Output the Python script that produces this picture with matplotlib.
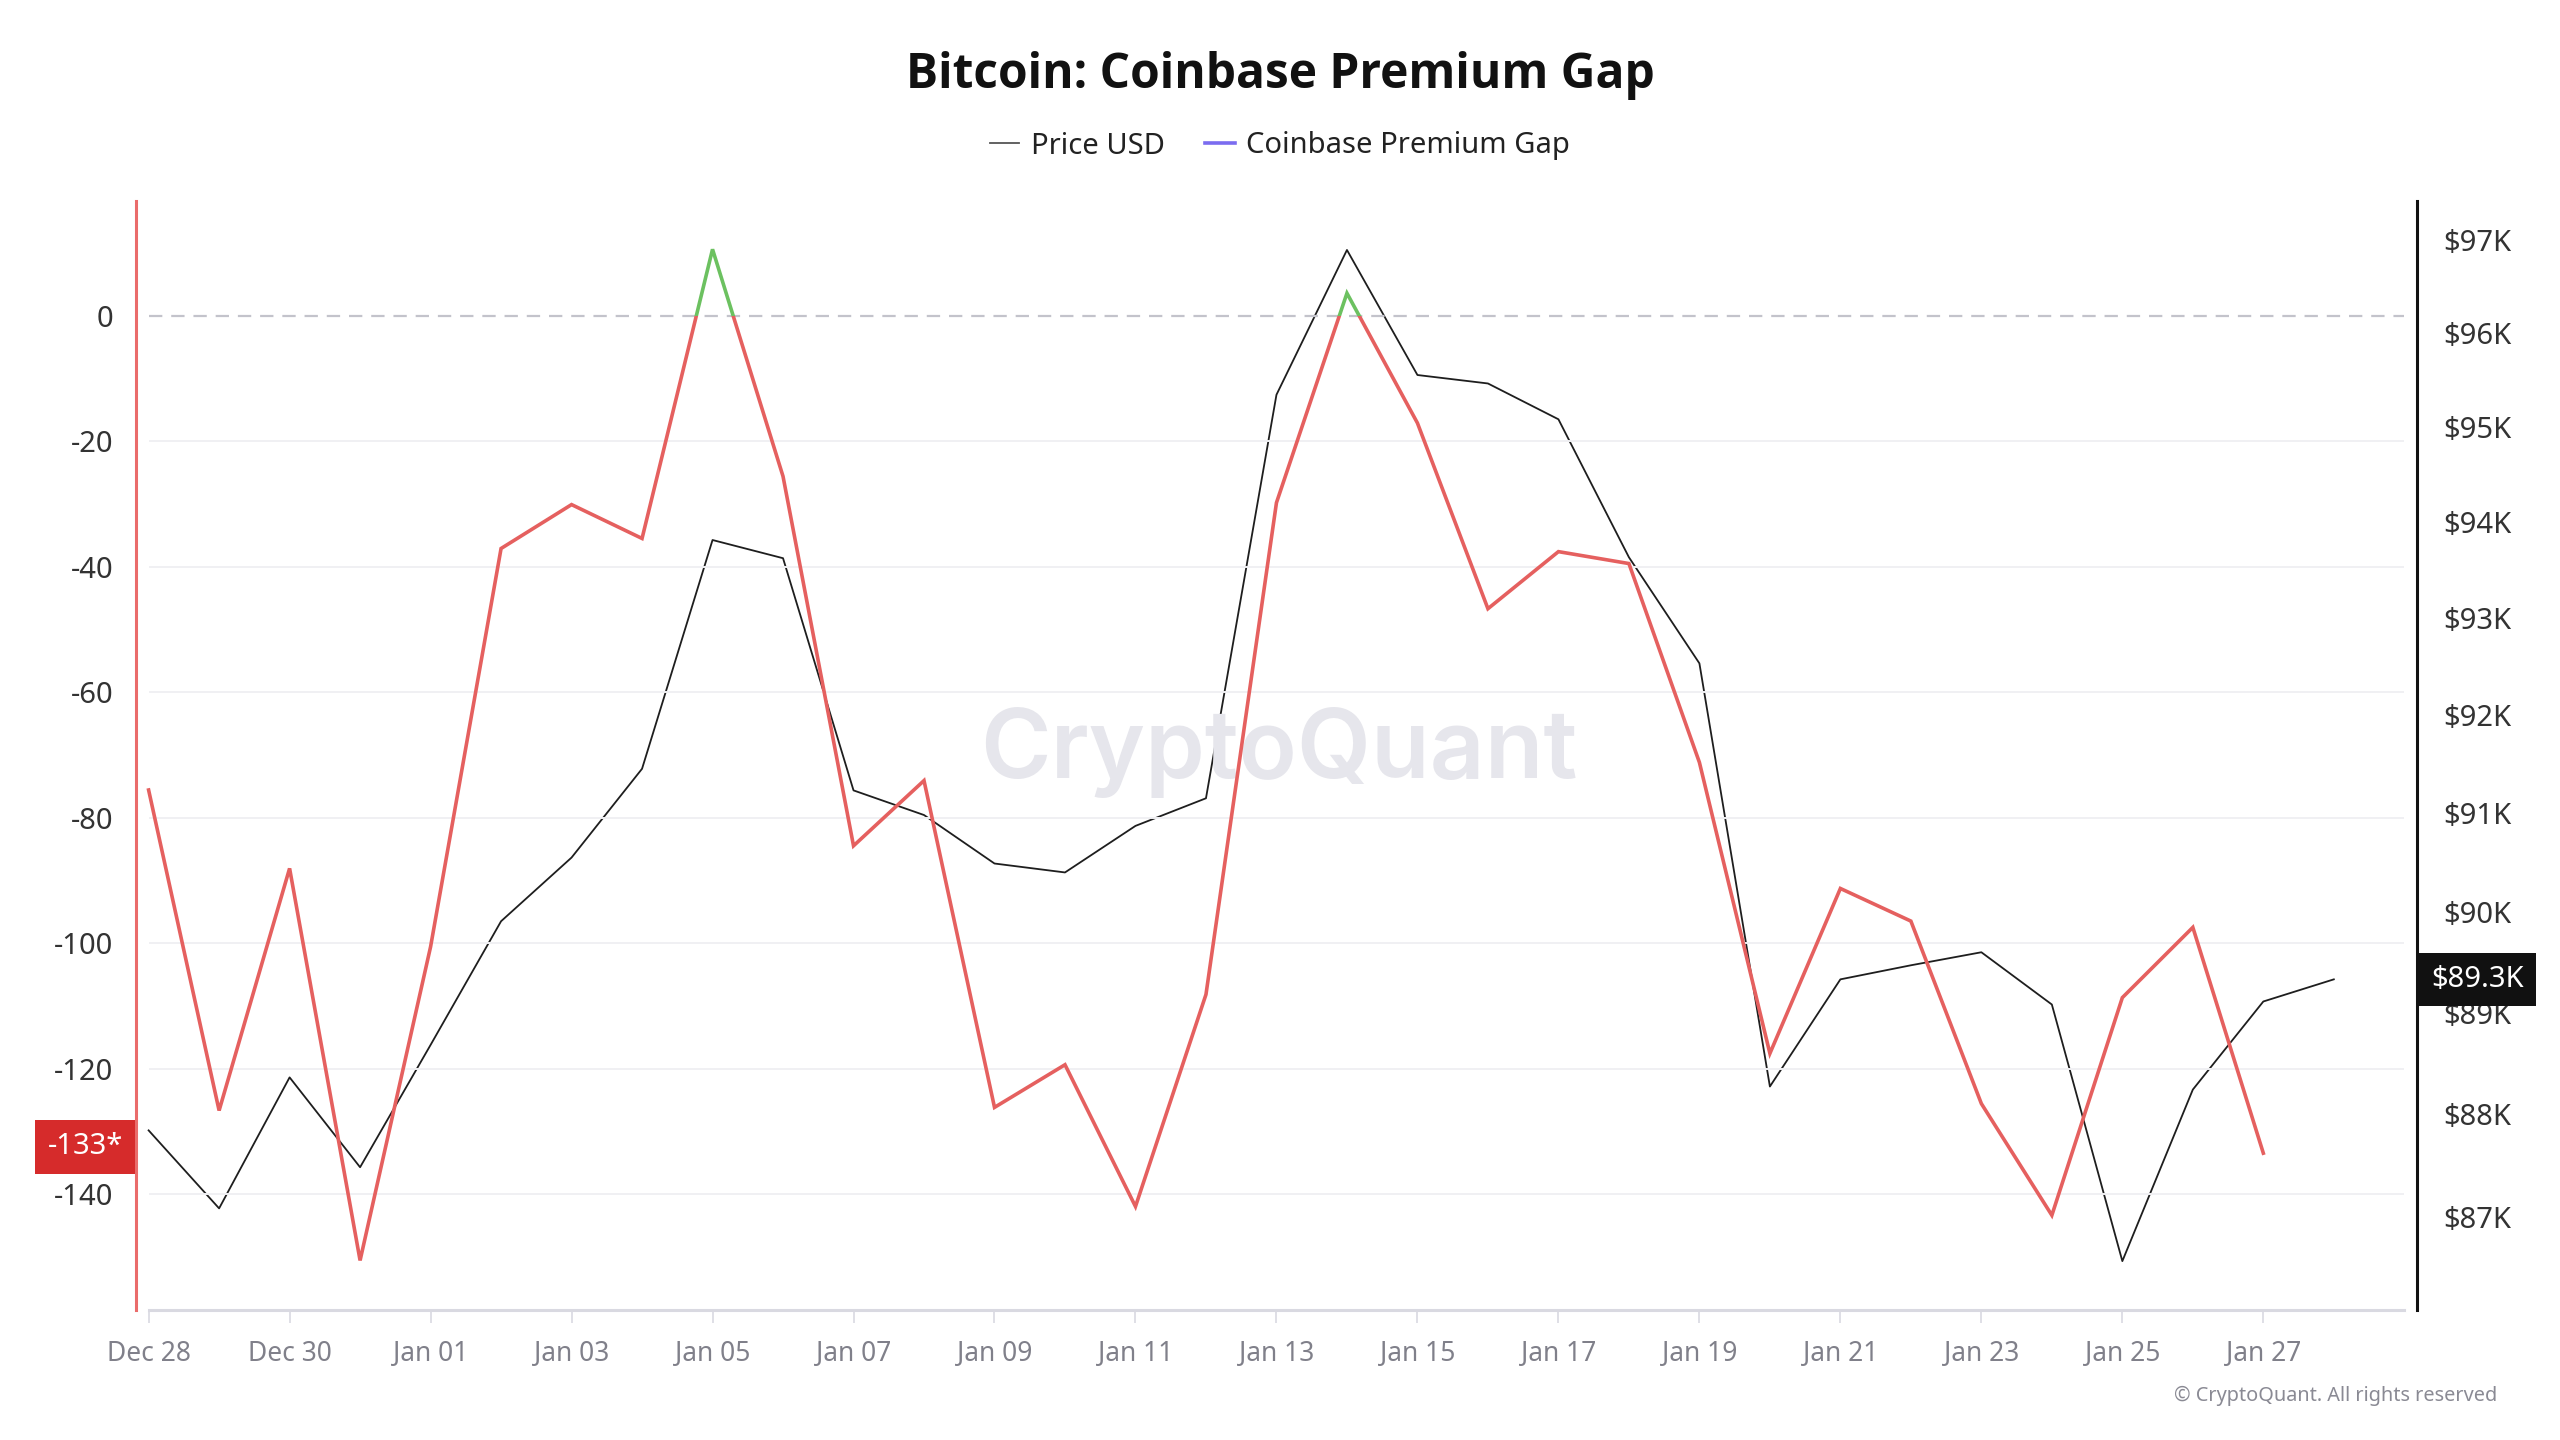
import matplotlib
matplotlib.use("Agg")
import matplotlib.pyplot as plt
from matplotlib.lines import Line2D
from matplotlib.patches import Rectangle
from matplotlib import transforms
from matplotlib.ticker import FixedLocator, NullLocator

# ---------------- data ----------------
dates = ["Dec 28", "Dec 29", "Dec 30", "Dec 31", "Jan 01", "Jan 02", "Jan 03", "Jan 04",
         "Jan 05", "Jan 06", "Jan 07", "Jan 08", "Jan 09", "Jan 10", "Jan 11", "Jan 12",
         "Jan 13", "Jan 14", "Jan 15", "Jan 16", "Jan 17", "Jan 18", "Jan 19", "Jan 20",
         "Jan 21", "Jan 22", "Jan 23", "Jan 24", "Jan 25", "Jan 26", "Jan 27", "Jan 28"]

premium_gap = [-75.6, -126.7, -88.1, -150.6, -100.6, -37.1, -30.1, -35.5,
               10.6, -25.6, -84.5, -74.1, -126.2, -119.4, -142.0, -108.2,
               -29.8, 3.6, -17.1, -46.7, -37.6, -39.5, -71.2, -117.6,
               -91.3, -96.5, -125.6, -143.4, -108.7, -97.5, -133.5]

price_k = [87.84, 87.08, 88.36, 87.48, 88.68, 89.91, 90.55, 91.45,
           93.81, 93.62, 91.23, 90.98, 90.49, 90.40, 90.87, 91.15,
           95.34, 96.89, 95.55, 95.46, 95.08, 93.63, 92.53, 88.27,
           89.33, 89.47, 89.60, 89.08, 86.57, 88.24, 89.11, 89.33]

left_ticks = [0, -20, -40, -60, -80, -100, -120, -140]
right_ticks = [87, 88, 89, 90, 91, 92, 93, 94, 95, 96, 97]
xtick_idx = list(range(0, 31, 2))
xtick_labels = [dates[i] for i in xtick_idx]

title = "Bitcoin: Coinbase Premium Gap"
series_names = ["Price USD", "Coinbase Premium Gap"]
premium_label = "-133*"
price_label = "$89.3K"

# ---------------- style ----------------
FONT = ["Noto Sans", "DejaVu Sans"]
NARROW = ["Liberation Sans Narrow", "Noto Sans", "DejaVu Sans"]
plt.rcParams["font.family"] = FONT

RED = "#e5605f"
GREEN = "#6cc160"
BLACK = "#1e1e1e"
GRID = "#f0f0f3"
AXIS_GRAY = "#d9d9e1"
TEXT = "#333333"
XTEXT = "#80808a"

fig = plt.figure(figsize=(25.6, 14.4), dpi=100)
ax = fig.add_axes([0.05293, 0.09028, 0.89121, 0.77014])
ax2 = ax.twinx()

xs_p = list(range(len(premium_gap)))
xs_price = list(range(len(price_k)))

ax.set_xlim(-0.186, 32.18)
ax.set_ylim(-158.5, 18.3)
ax2.set_yscale("log")
ax2.set_ylim(86.10, 97.42)

# grid lines and zero line
ax.hlines([t for t in left_ticks if t != 0], 0, 32, colors=GRID, lw=1.4, zorder=0)
ax.hlines([0], 0, 32, colors="#c3c3cb", lw=1.6, linestyles=(0, (6, 4)), zorder=1)

# bottom axis line
ax.plot([0, 32], [ax.get_ylim()[0]] * 2, color=AXIS_GRAY, lw=2.2, clip_on=False, zorder=2)

# price line
ax2.plot(xs_price, price_k, color=BLACK, lw=1.3, zorder=3)

# premium line split red/green at zero
red_line, = ax.plot(xs_p, premium_gap, color=RED, lw=2.6, zorder=4, solid_joinstyle="miter")
green_line, = ax.plot(xs_p, premium_gap, color=GREEN, lw=2.6, zorder=4, solid_joinstyle="miter")
red_clip = Rectangle((-10, -1000), 100, 1000, transform=ax.transData)
green_clip = Rectangle((-10, 0), 100, 1000, transform=ax.transData)
red_line.set_clip_path(red_clip)
green_line.set_clip_path(green_clip)

# premium on top of price
ax.set_zorder(ax2.get_zorder() + 1)
ax.patch.set_visible(False)

# spines
for a in (ax, ax2):
    a.spines["top"].set_visible(False)
    a.spines["bottom"].set_visible(False)
ax.spines["right"].set_visible(False)
ax2.spines["left"].set_visible(False)
ax.spines["left"].set_color("#ea6c6b")
ax.spines["left"].set_linewidth(2.2)
ax2.spines["right"].set_color("#111111")
ax2.spines["right"].set_linewidth(2.2)

# ticks
ax.set_yticks(left_ticks)
ax.set_yticklabels([str(t) for t in left_ticks])
ax.tick_params(axis="y", length=0, pad=16, labelsize=21, labelcolor=TEXT)
ax2.yaxis.set_major_locator(FixedLocator(right_ticks))
ax2.yaxis.set_minor_locator(NullLocator())
ax2.set_yticklabels([f"${t}K" for t in right_ticks])
ax2.tick_params(axis="y", which="both", length=0, pad=19, labelsize=21, labelcolor=TEXT)

ax.set_xticks(xtick_idx)
ax.set_xticklabels(xtick_labels)
ax.tick_params(axis="x", length=9.5, width=1.2, color=AXIS_GRAY, pad=12,
               labelsize=19, labelcolor=XTEXT)
for lbl in ax.get_xticklabels():
    lbl.set_family(NARROW)

# title & legend
fig.text(0.5, 1 - 76 / 1440, title, ha="center", va="center",
         fontsize=34.5, fontweight="bold", color="#111111",
         family=["Open Sans", "Noto Sans", "DejaVu Sans"])
handles = [Line2D([], [], color="#555555", lw=1.3),
           Line2D([], [], color="#7b6cf0", lw=2.6)]
leg = fig.legend(handles, series_names, loc="center", bbox_to_anchor=(0.5, 1 - 146 / 1440),
                 ncol=2, frameon=False, fontsize=21, handlelength=1.0,
                 handletextpad=0.4, columnspacing=1.4)
for t in leg.get_texts():
    t.set_color("#222222")

# watermark
fig.text(1279 / 2560, 1 - 752 / 1440, "CryptoQuant", ha="center", va="center",
         fontsize=69, color="#e6e6ec", family=["Inter", "Noto Sans", "DejaVu Sans"],
         fontweight="semibold", zorder=0)

# value labels
blend_l = transforms.blended_transform_factory(ax.transAxes, ax.transData)
ax.annotate(premium_label, xy=(0, premium_gap[-1] + 1.0), xycoords=blend_l,
            xytext=(-9.0, 0), textcoords="offset points", ha="right", va="center",
            fontsize=21, color="white", annotation_clip=False, zorder=10,
            bbox=dict(boxstyle="square,pad=0.42", fc="#d62b2b", ec="none"))
blend_r = transforms.blended_transform_factory(ax2.transAxes, ax2.transData)
ax2.annotate(price_label, xy=(1, price_k[-1]), xycoords=blend_r,
             xytext=(10.0, 0), textcoords="offset points", ha="left", va="center",
             fontsize=21, color="white", annotation_clip=False, zorder=10,
             bbox=dict(boxstyle="square,pad=0.42", fc="#111111", ec="none"))

# footer
fig.text(2497 / 2560, 1 - 1396 / 1440, "\u00a9 CryptoQuant. All rights reserved", ha="right",
         va="center", fontsize=14.3, color="#8a8a94", family=NARROW)

fig.savefig("out.png", dpi=100)
